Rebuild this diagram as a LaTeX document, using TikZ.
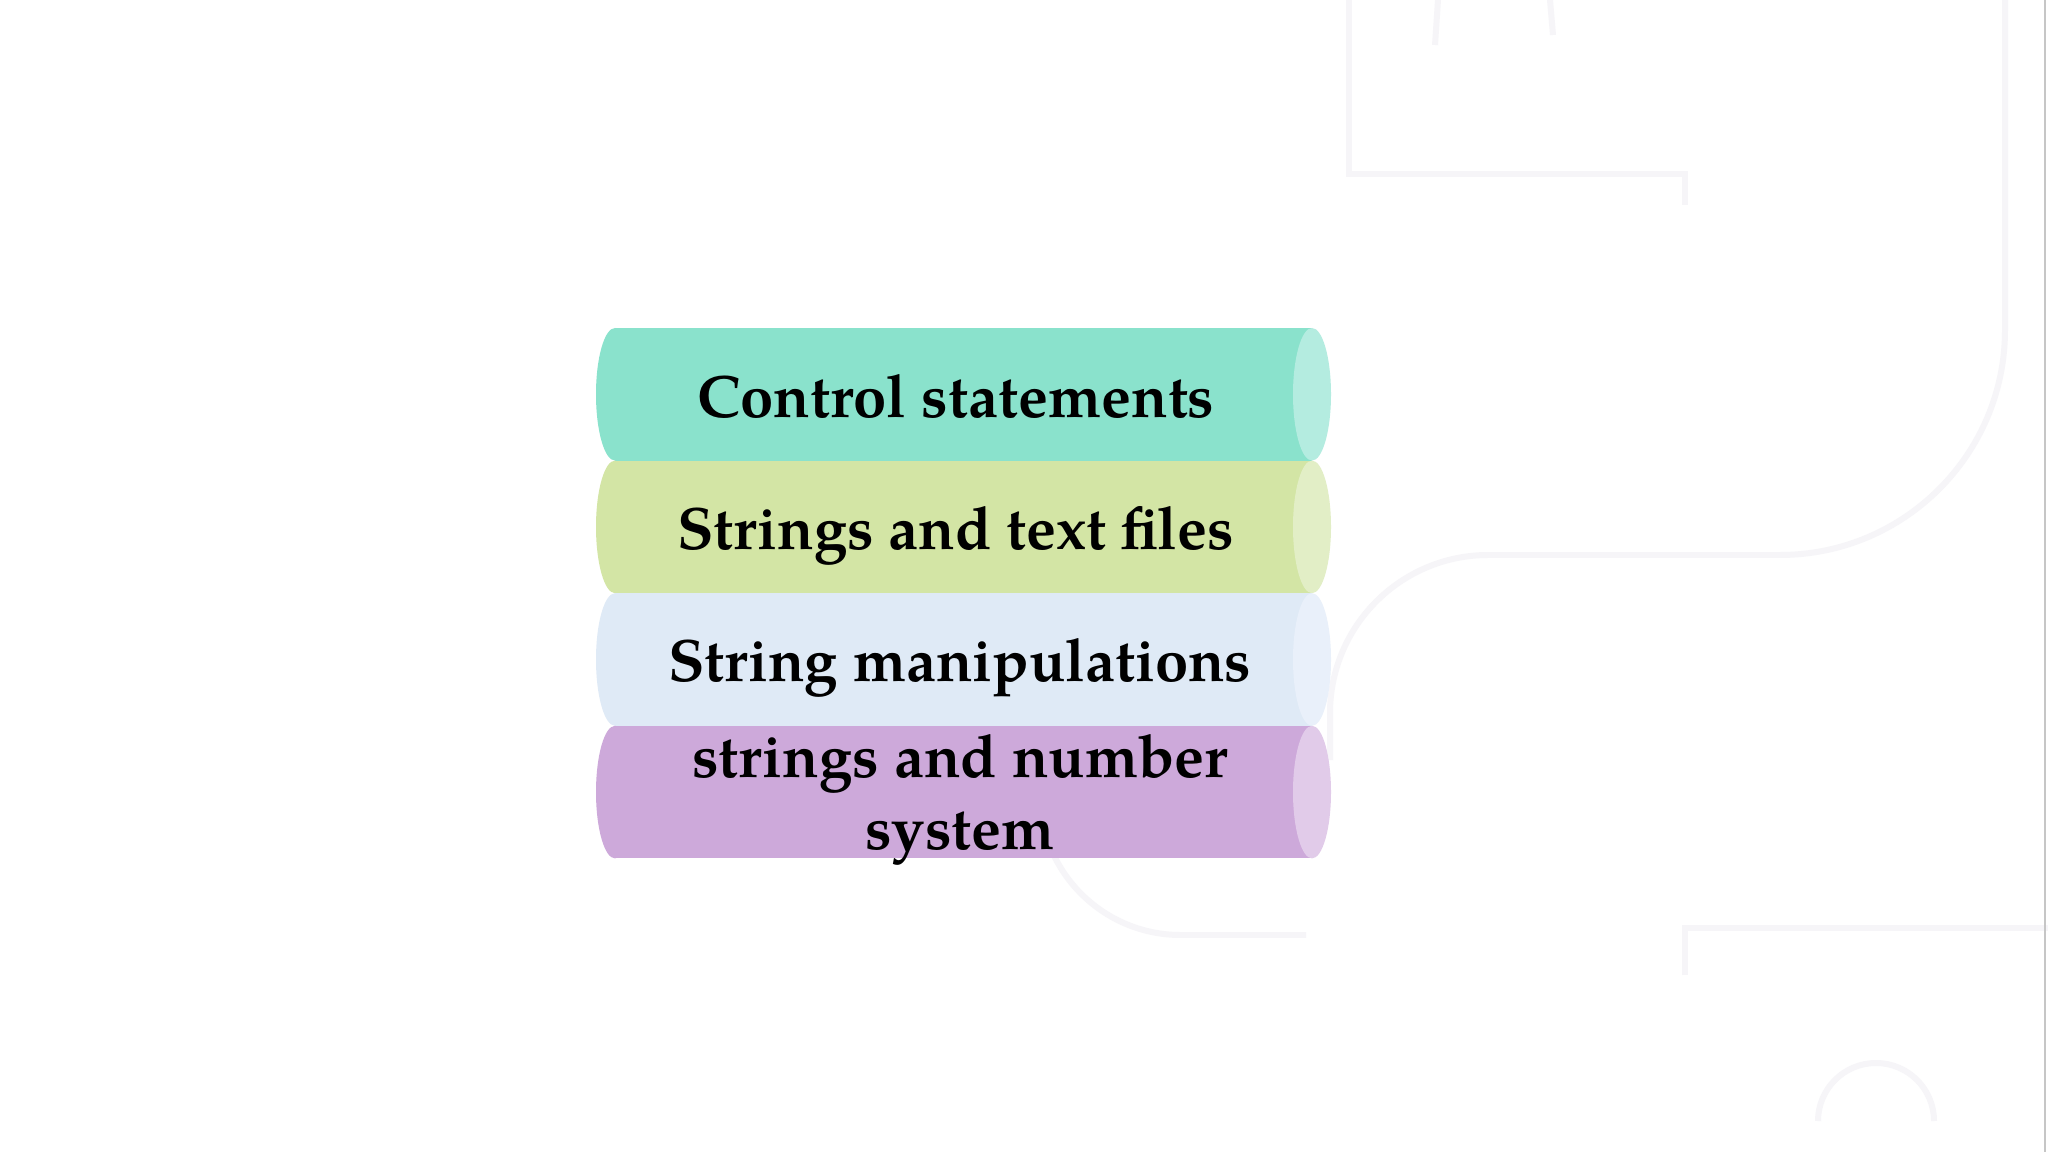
\documentclass[tikz,border=0pt]{standalone}
\usepackage{fontspec}
\setmainfont{TeX Gyre Pagella}
\definecolor{bandA}{RGB}{138,226,204}
\definecolor{faceA}{RGB}{180,236,224}
\definecolor{bandB}{RGB}{211,229,165}
\definecolor{faceB}{RGB}{226,238,198}
\definecolor{bandC}{RGB}{223,234,246}
\definecolor{faceC}{RGB}{233,240,250}
\definecolor{bandD}{RGB}{205,169,218}
\definecolor{faceD}{RGB}{225,203,233}
\definecolor{deco}{RGB}{246,245,248}
\tikzset{
  decoline/.style={draw=deco, line width=1.7pt},
  label/.style={font=\bfseries\fontsize{17}{20.5}\selectfont, align=center, text=black, inner sep=0},
}
\begin{document}
\begin{tikzpicture}[x=0.01cm, y=-0.01cm]
\useasboundingbox (0,0) rectangle (2048,1152);
\fill[white] (0,0) rectangle (2048,1152);
% faint background decoration
\draw[decoline] (1349,0) -- (1349,174) -- (1685,174) -- (1685,205);
\draw[decoline, rounded corners=64pt] (2005,0) -- (2005,555) [rounded corners=45pt] -- (1330,555) -- (1330,760);
\draw[decoline, rounded corners=40pt] (1040,700) -- (1040,935) -- (1306,935);
\draw[decoline] (1685,975) -- (1685,928) -- (2048,928);
\draw[decoline] (1818,1121) arc[start angle=180, end angle=360, radius=58];
\draw[decoline] (1438,0) -- (1435,45);
\draw[decoline] (1550,0) -- (1553,35);
\draw[gray!45, line width=0.6pt] (2045,0) -- (2045,1152);
% cylinders
\foreach \t/\b/\f in {328/bandA/faceA, 460.6/bandB/faceB, 593.2/bandC/faceC, 725.8/bandD/faceD}{
  \fill[\b] (615,\t+66.3) ellipse[x radius=19, y radius=66.3];
  \fill[\b] (615,\t) rectangle (1312,\t+132.6);
  \fill[\f] (1312,\t+66.3) ellipse[x radius=19, y radius=66.3];
}
\node[label, anchor=base] (n1) at (956,418) {Control statements};
\node[label, anchor=base] (n2) at (956,550) {Strings and text files};
\node[label, anchor=base] (n3) at (960,682) {String manipulations};
\node[label] (n4) at (960,800) {strings and number\\system};
\end{tikzpicture}
\end{document}
